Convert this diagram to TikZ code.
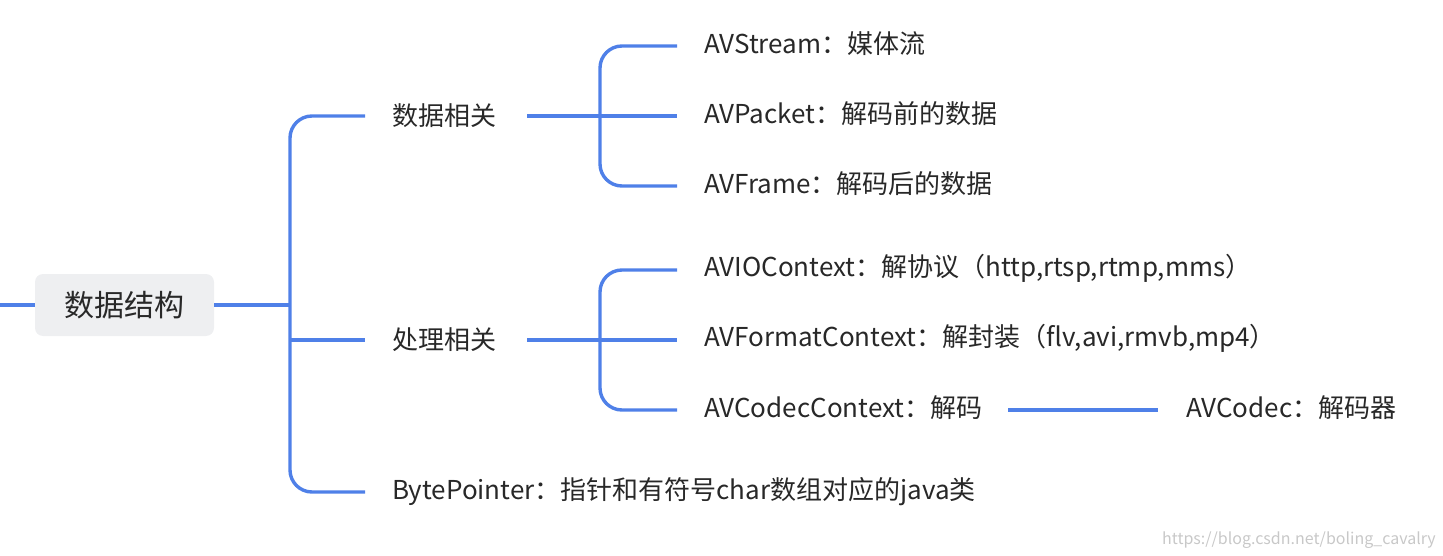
\documentclass[tikz,border=0pt]{standalone}
\usepackage{fontspec}
\setmainfont{Noto Sans CJK SC}
\begin{document}
\begin{tikzpicture}[x=1pt,y=-1pt,
  ln/.style={draw={rgb,255:red,79;green,128;blue,232},line width=3.4pt,rounded corners=22pt},
  t/.style={anchor=west,inner sep=0pt,font=\fontsize{26}{30}\selectfont,text={rgb,255:red,40;green,40;blue,40}}]
\useasboundingbox (0,0) rectangle (1443,556);
\node[fill={rgb,255:red,238;green,239;blue,241},rounded corners=8pt,minimum width=179pt,minimum height=62pt,font=\fontsize{30}{34}\selectfont,text={rgb,255:red,40;green,40;blue,40}] (root) at (124.5,305) {数据结构};
\coordinate (l0) at (0,305);
\draw[ln,rounded corners=0] (l0) -- (root.west);
\node[t] (d) at (392,116) {数据相关};
\node[t] (p) at (392,340) {处理相关};
\node[t] (b) at (392,492) {BytePointer：指针和有符号char数组对应的java类};
\coordinate (d0) at (365,116); \coordinate (p0) at (365,340); \coordinate (b0) at (365,492);
\draw[ln] (d0) -- (290,116) -- (290,492) -- (b0);
\draw[ln,rounded corners=0] (root.east) -- (290,305);
\draw[ln,rounded corners=0] (290,340) -- (p0);
\node[t] (s1) at (704,44) {AVStream：媒体流};
\node[t] (s2) at (704,114) {AVPacket：解码前的数据};
\node[t] (s3) at (704,184) {AVFrame：解码后的数据};
\coordinate (a1) at (677,46); \coordinate (a2) at (677,116); \coordinate (a3) at (677,186);
\draw[ln] (a1) -- (600,46) -- (600,186) -- (a3);
\draw[ln,rounded corners=0] (527,116) -- (a2);
\node[t] (c1) at (704,268) {AVIOContext：解协议（http,rtsp,rtmp,mms）};
\node[t] (c2) at (704,338) {AVFormatContext：解封装（flv,avi,rmvb,mp4）};
\node[t] (c3) at (704,408) {AVCodecContext：解码};
\coordinate (e1) at (677,270); \coordinate (e2) at (677,340); \coordinate (e3) at (677,410);
\draw[ln] (e1) -- (600,270) -- (600,410) -- (e3);
\draw[ln,rounded corners=0] (527,340) -- (e2);
\node[t] (cc) at (1186,408) {AVCodec：解码器};
\coordinate (f0) at (1008,410); \coordinate (f1) at (1158,410);
\draw[ln,rounded corners=0] (f0) -- (f1);
\node[anchor=east,inner sep=0pt,font=\fontsize{16}{18}\selectfont,text={rgb,255:red,200;green,200;blue,200}] (w) at (1436,540) {https://blog.csdn.net/boling\_cavalry};
\end{tikzpicture}
\end{document}
